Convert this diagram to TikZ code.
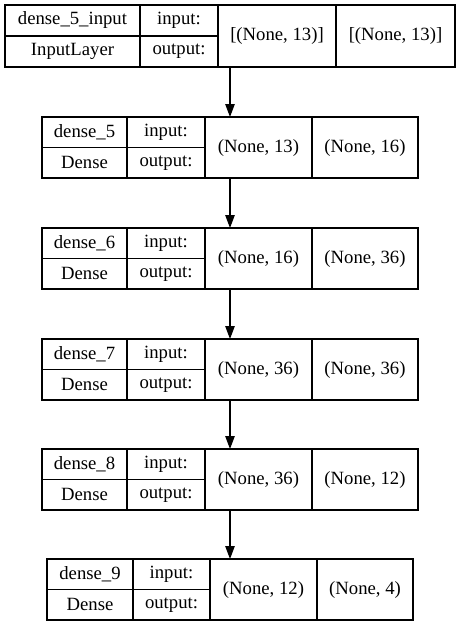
\documentclass[tikz,border=0pt]{standalone}
\usepackage{fontspec}
\setmainfont{Liberation Serif}
\usetikzlibrary{arrows.meta}

\begin{document}
\begin{tikzpicture}[x=1pt, y=-1pt, line width=1.1pt,
        layerbox/.style = {draw, inner sep=0pt, outer sep=0pt},
        txt/.style = {inner sep=0pt, font=\fontsize{18.7}{22}\selectfont},
        flow/.style = {-{Triangle[length=13pt, width=9.5pt]}},
    ]
    \useasboundingbox (0,0) rectangle (460,627);

    % one record per layer: top, height, column edges, texts
    \foreach \id/\ytop/\h/\xa/\xb/\xc/\xd/\xe/\lname/\ltype/\ishape/\oshape in {
            1/5/62/5/140/218/336/455/dense\_5\_input/InputLayer/{[(None, 13)]}/{[(None, 13)]},
            2/117/61/42/127/205/312/418/dense\_5/Dense/{(None, 13)}/{(None, 16)},
            3/228/61/42/127/205/312/418/dense\_6/Dense/{(None, 16)}/{(None, 36)},
            4/339/61/42/127/205/312/418/dense\_7/Dense/{(None, 36)}/{(None, 36)},
            5/449/61/42/127/205/312/418/dense\_8/Dense/{(None, 36)}/{(None, 12)},
            6/559/61/47/133/210/317/413/dense\_9/Dense/{(None, 12)}/{(None, 4)}}
        {
            \node[layerbox, minimum width={(\xe-\xa)*1pt}, minimum height={\h*1pt}]
                (L\id) at ({(\xa+\xe)/2},{\ytop+\h/2}) {};
            \draw (\xb,\ytop) -- (\xb,\ytop+\h);
            \draw (\xc,\ytop) -- (\xc,\ytop+\h);
            \draw (\xd,\ytop) -- (\xd,\ytop+\h);
            \draw (\xa,\ytop+\h/2) -- (\xc,\ytop+\h/2);

            \node[txt] (L\id-name) at ({(\xa+\xb)/2},{\ytop+\h/4}) {\lname};
            \node[txt] (L\id-type) at ({(\xa+\xb)/2},{\ytop+3*\h/4}) {\ltype};
            \node[txt] (L\id-in) at ({(\xb+\xc)/2},{\ytop+\h/4}) {input:};
            \node[txt] (L\id-out) at ({(\xb+\xc)/2},{\ytop+3*\h/4}) {output:};
            \node[txt] (L\id-ishape) at ({(\xc+\xd)/2},{\ytop+\h/2}) {\ishape};
            \node[txt] (L\id-oshape) at ({(\xd+\xe)/2},{\ytop+\h/2}) {\oshape};
        }

    \foreach \i [count=\j] in {2,...,6}
        {
            \draw[flow] (L\j.south) -- (L\i.north);
        }
\end{tikzpicture}
\end{document}
